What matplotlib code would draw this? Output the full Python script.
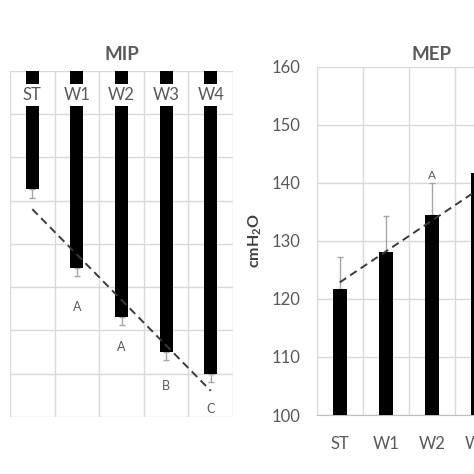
import numpy as np
import matplotlib
matplotlib.use("Agg")
import matplotlib.pyplot as plt

plt.rcParams['font.family'] = ['Lato', 'DejaVu Sans']
plt.rcParams['mathtext.default'] = 'regular'

categories = ["ST", "W1", "W2", "W3", "W4"]

mip_values = [-54.6, -91.0, -114.0, -130.0, -140.0]
mip_err = [4.2, 4.0, 3.7, 3.6, 4.0]
mip_letters = ["", "A", "A", "B", "C"]
mip_letter_y = [0, -109.0, -127.5, -145.5, -156.5]

mep_values = [121.7, 128.0, 134.5, 141.7, 141.4]
mep_err = [5.6, 6.2, 5.5, 6.0, 6.0]
mep_letters = ["", "", "A", "", ""]
mep_letter_y = [0, 0, 141.3, 0, 0]

GRID = '#d9d9d9'
TXT = '#595959'
ERR = '#a6a6a6'
TREND = '#3a3a3a'

fig = plt.figure(figsize=(4.74, 4.74), dpi=100)
x = np.arange(len(categories))

# ---- MIP panel ----
ax1 = fig.add_axes([10/474, 1-417/474, 223/474, (417-70.7)/474])
ax1.bar(x, mip_values, width=0.29, color='black', zorder=3)
ax1.errorbar(x, mip_values, yerr=[mip_err, np.zeros(len(x))], fmt='none',
             ecolor=ERR, elinewidth=1, capsize=2, capthick=1, zorder=2)
k, b = np.polyfit(x, mip_values, 1)
xt = np.array([0, len(x)-1])
ax1.plot(xt, k*xt+b, color=TREND, lw=1.4, dashes=(4, 2.5), zorder=4)
ax1.set_xlim(-0.5, 4.5)
ax1.set_ylim(-160, 0)
ax1.set_yticks(np.arange(-160, 1, 20))
ax1.set_xticks(np.arange(-0.5, 4.6, 1))
ax1.grid(True, color=GRID, lw=1, zorder=0)
ax1.set_axisbelow(True)
ax1.tick_params(length=0, labelleft=False, labelbottom=False)
for s in ax1.spines.values():
    s.set_visible(False)
for i, c in enumerate(categories):
    ax1.text(i, -11.2, c, ha='center', va='center', fontsize=12, color=TXT,
             zorder=6, bbox=dict(facecolor='white', edgecolor='none', pad=2.2))
for i, l in enumerate(mip_letters):
    if l:
        ax1.text(i, mip_letter_y[i], l, ha='center', va='center', fontsize=9,
                 color=TXT, zorder=5)
ax1.set_title("MIP", fontsize=13.5, fontweight='bold', color=TXT, pad=8)

# ---- MEP panel ----
ax2 = fig.add_axes([316.7/474, 1-415/474, 230/474, (415-66.7)/474])
ax2.bar(x, mep_values, width=0.30, color='black', zorder=3)
ax2.errorbar(x, mep_values, yerr=[np.zeros(len(x)), mep_err], fmt='none',
             ecolor=ERR, elinewidth=1, capsize=2, capthick=1, zorder=2)
k2, b2 = np.polyfit(x, mep_values, 1)
ax2.plot(xt, k2*xt+b2, color=TREND, lw=1.4, dashes=(4, 2.5), zorder=4)
ax2.set_xlim(-0.5, 4.5)
ax2.set_ylim(100, 160)
ax2.set_yticks(np.arange(100, 161, 10))
ax2.set_xticks(x)
ax2.set_xticklabels(categories)
ax2.set_xticks(np.arange(-0.5, 4.6, 1), minor=True)
ax2.grid(True, which='major', axis='y', color=GRID, lw=1, zorder=0)
ax2.grid(True, which='minor', axis='x', color=GRID, lw=1, zorder=0)
ax2.set_axisbelow(True)
ax2.tick_params(which='both', length=0, labelsize=12, colors=TXT)
ax2.tick_params(axis='y', pad=12)
ax2.tick_params(axis='x', pad=15)
for s in ['top', 'right']:
    ax2.spines[s].set_visible(False)
ax2.spines['left'].set_color(GRID)
ax2.spines['bottom'].set_color('#bfbfbf')
for i, l in enumerate(mep_letters):
    if l:
        ax2.text(i, mep_letter_y[i], l, ha='center', va='center', fontsize=8.5,
                 color=TXT, zorder=5)
ax2.set_ylabel("cmH$_2$O", fontsize=11.5, fontweight='bold', color='#404040', labelpad=5)
ax2.set_title("MEP", fontsize=13.5, fontweight='bold', color=TXT, pad=5)

fig.savefig("out.png", dpi=100)
